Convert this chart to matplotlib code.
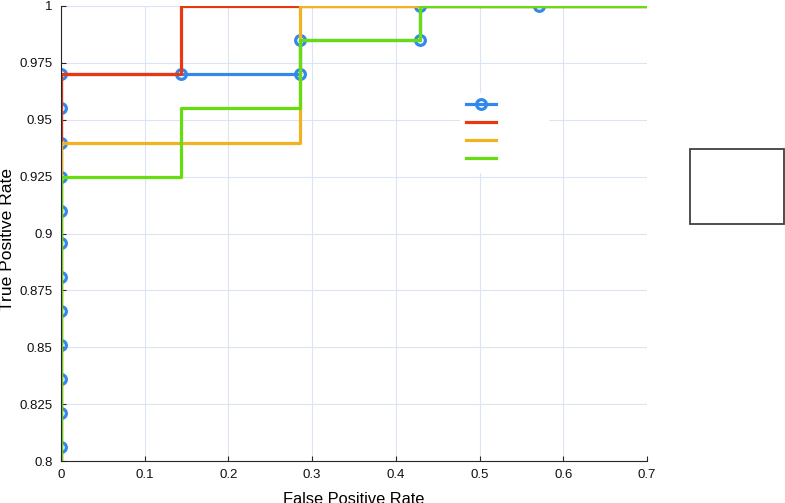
import numpy as np
import matplotlib.pyplot as plt
from matplotlib.patches import Rectangle
from matplotlib.lines import Line2D

plt.rcParams['font.family'] = ['Liberation Sans', 'DejaVu Sans']

# ROC curves (FPR, TPR)
blue_fpr = [0, 0, 0, 0, 0, 0, 0, 0, 0, 0, 0, 0, 0,
            0.1429, 0.2857, 0.2857, 0.4286, 0.4286, 0.5714, 0.7143, 0.8571, 1.0]
blue_tpr = [0.791, 0.806, 0.821, 0.836, 0.851, 0.866, 0.881, 0.896, 0.910, 0.925,
            0.940, 0.955, 0.970, 0.970, 0.970, 0.985, 0.985, 1.0, 1.0, 1.0, 1.0, 1.0]

red_fpr = [0, 0, 0.1429, 0.1429, 1.0]
red_tpr = [0, 0.970, 0.970, 1.0, 1.0]

orange_fpr = [0, 0, 0.2857, 0.2857, 1.0]
orange_tpr = [0, 0.940, 0.940, 1.0, 1.0]

green_fpr = [0, 0, 0.1429, 0.1429, 0.2857, 0.2857, 0.4286, 0.4286, 1.0]
green_tpr = [0, 0.925, 0.925, 0.955, 0.955, 0.985, 0.985, 1.0, 1.0]

x_ticks = [0, 0.1, 0.2, 0.3, 0.4, 0.5, 0.6, 0.7]
x_labels = ['0', '0.1', '0.2', '0.3', '0.4', '0.5', '0.6', '0.7']
y_ticks = [0.8, 0.825, 0.85, 0.875, 0.9, 0.925, 0.95, 0.975, 1.0]
y_labels = ['0.8', '0.825', '0.85', '0.875', '0.9', '0.925', '0.95', '0.975', '1']

c_blue = '#3388ee'
c_red = '#e8380f'
c_orange = '#f2b11e'
c_green = '#66dd0e'

fig = plt.figure(figsize=(7.85, 5.03), dpi=100)
ax = fig.add_axes([61/785, 42/503, 586/785, 455/503])

lw = 2.3
ax.plot(blue_fpr, blue_tpr, color=c_blue, lw=lw, marker='o', ms=7,
        mfc='none', mec=c_blue, mew=2.3)
ax.plot(red_fpr, red_tpr, color=c_red, lw=lw)
ax.plot(orange_fpr, orange_tpr, color=c_orange, lw=lw)
ax.plot(green_fpr, green_tpr, color=c_green, lw=lw)

ax.set_xlim(0, 0.7)
ax.set_ylim(0.8, 1.0)
ax.set_xticks(x_ticks)
ax.set_xticklabels(x_labels)
ax.set_yticks(y_ticks)
ax.set_yticklabels(y_labels)
ax.grid(True, color='#dbe4f5', lw=0.8)
ax.set_axisbelow(True)
for s in ['top', 'right']:
    ax.spines[s].set_visible(False)
for s in ['left', 'bottom']:
    ax.spines[s].set_color('#262626')
    ax.spines[s].set_linewidth(0.8)
ax.tick_params(direction='in', length=3.5, width=0.8, color='#262626',
               labelsize=9.5, labelcolor='#111111')
ax.tick_params(axis='y', pad=6)
ax.tick_params(axis='x', pad=6)

ax.set_xlabel('False Positive Rate', fontsize=11.8)
ax.set_ylabel('True Positive Rate', fontsize=12.6)
ax.xaxis.set_label_coords(0.5, -0.069)
ax.yaxis.set_label_coords(-0.078, 0.487)

handles = [
    Line2D([], [], color=c_blue, lw=lw, marker='o', ms=7, mfc='none', mew=2.3),
    Line2D([], [], color=c_red, lw=lw),
    Line2D([], [], color=c_orange, lw=lw),
    Line2D([], [], color=c_green, lw=lw),
]
leg = ax.legend(handles, ['          '] * 4, loc='upper left',
                bbox_to_anchor=((460-61)/586, (461-93)/455),
                fontsize=9, handlelength=2.4, labelspacing=0.48,
                borderpad=0.5, borderaxespad=0, frameon=True,
                fancybox=False, facecolor='white', edgecolor='white',
                framealpha=1)

fig.patches.append(Rectangle((690/785, (503-224)/503), 94/785, 75/503,
                             transform=fig.transFigure, fill=False,
                             edgecolor='#404040', lw=1.3))

fig.savefig('out.png', dpi=100)
